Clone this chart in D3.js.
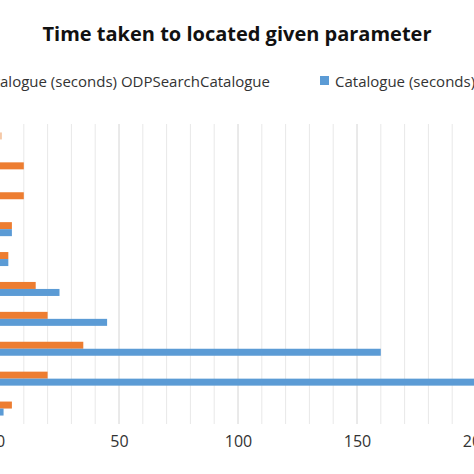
<!DOCTYPE html><html><head><meta charset="utf-8"><script src="https://cdn.jsdelivr.net/npm/d3@7"></script>
<style>body{margin:0;background:#fff}svg{display:block}</style></head><body><script>
const categories=["P1","P2","P3","P4","P5","P6","P7","P8","P9","P10"];
const seriesOrange=[0.8,10,10,5,3.5,15,20,35,20,5];
const seriesBlue=[0,0,0,5,3.5,25,45,160,210,1.5];
const ticks=[0,50,100,150,200];
const seriesNames=["Catalogue (seconds) ODPSearchCatalogue","Catalogue (seconds)"];
const W=474,H=474;
const svg=d3.select("body").append("svg").attr("width",W).attr("height",H);
const x=d3.scaleLinear().domain([0,200]).range([0,476]);
const y=d3.scaleBand().domain(categories).range([124.5,423.5]);
const f="'Open Sans',Calibri,sans-serif";
svg.append("g").selectAll("line").data(d3.range(10,201,10)).join("line")
 .attr("x1",d=>x(d)).attr("x2",d=>x(d)).attr("y1",124).attr("y2",424)
 .attr("stroke",d=>d%50===0?"#d4d4d4":"#e8e8e8").attr("stroke-width",1);
const g=svg.append("g");
g.selectAll(".o").data(categories).join("rect").attr("x",x(0)).attr("y",(d)=>y(d)+y.bandwidth()/2-7)
 .attr("width",(d,i)=>x(seriesOrange[i])-x(0)).attr("height",7).attr("fill",(d,i)=>i===0?"#f5c9a8":"#ed7d31");
g.selectAll(".b").data(categories).join("rect").attr("x",x(0)).attr("y",(d)=>y(d)+y.bandwidth()/2)
 .attr("width",(d,i)=>x(seriesBlue[i])-x(0)).attr("height",7).attr("fill","#5b9bd5");
const ax=svg.append("g").attr("transform","translate(0,428)").call(d3.axisBottom(x).tickValues(ticks).tickSize(0).tickPadding(8));
ax.select(".domain").remove();
ax.selectAll("text").attr("font-family",f).attr("font-size",16).attr("fill","#333");
svg.append("text").attr("x",237).attr("y",41).attr("text-anchor","middle").attr("font-family",f)
 .attr("font-weight","bold").attr("font-size",20).attr("fill","#111").text("Time taken to located given parameter");
svg.append("text").attr("x",270).attr("y",87).attr("text-anchor","end").attr("font-family",f).attr("font-size",15).attr("fill","#333").text(seriesNames[0]);
svg.append("rect").attr("x",320).attr("y",76).attr("width",9).attr("height",9).attr("fill","#5b9bd5");
svg.append("text").attr("x",335).attr("y",87).attr("font-family",f).attr("font-size",15).attr("fill","#333").text(seriesNames[1]);
</script></body></html>
